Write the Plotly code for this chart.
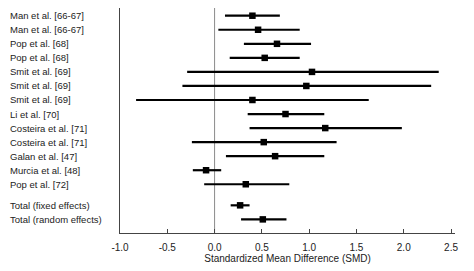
import plotly.graph_objects as go

studies = ["Man et al. [66-67]", "Man et al. [66-67]", "Pop et al. [68]", "Pop et al. [68]",
           "Smit et al. [69]", "Smit et al. [69]", "Smit et al. [69]", "Li et al. [70]",
           "Costeira et al. [71]", "Costeira et al. [71]", "Galan et al. [47]",
           "Murcia et al. [48]", "Pop et al. [72]",
           "Total (fixed effects)", "Total (random effects)"]
row_pos = [0, 1, 2, 3, 4, 5, 6, 7, 8, 9, 10, 11, 12, 13.5, 14.5]
smd = [0.40, 0.46, 0.66, 0.53, 1.03, 0.97, 0.40, 0.75, 1.17, 0.52, 0.64, -0.09, 0.33, 0.27, 0.51]
ci_low = [0.11, 0.04, 0.31, 0.16, -0.29, -0.34, -0.83, 0.35, 0.37, -0.24, 0.12, -0.23, -0.11, 0.17, 0.28]
ci_high = [0.69, 0.90, 1.02, 0.90, 2.37, 2.29, 1.63, 1.16, 1.98, 1.29, 1.16, 0.07, 0.79, 0.37, 0.76]
x_ticks = [-1.0, -0.5, 0.0, 0.5, 1.0, 1.5, 2.0, 2.5]

fig = go.Figure()
ys = [-p for p in row_pos]

# CI lines
lx, ly = [], []
for lo, hi, y in zip(ci_low, ci_high, ys):
    lx += [lo, hi, None]
    ly += [y, y, None]
fig.add_trace(go.Scatter(x=lx, y=ly, mode="lines", line=dict(color="black", width=2.2),
                         hoverinfo="skip", showlegend=False))
fig.add_trace(go.Scatter(x=smd, y=ys, mode="markers",
                         marker=dict(symbol="square", size=6.5, color="black"),
                         showlegend=False))

# zero reference line
fig.add_shape(type="line", x0=0, x1=0, y0=0, y1=1, xref="x", yref="paper",
              line=dict(color="#8a8a8a", width=1), layer="below")

for name, y in zip(studies, ys):
    fig.add_annotation(text=name, x=-0.335, xref="paper", y=y, yref="y",
                       xanchor="left", yanchor="middle", showarrow=False,
                       font=dict(family="Liberation Sans, Arial", size=9.5, color="#222"))

fig.update_layout(
    width=474, height=271,
    margin=dict(l=120, r=19, t=8, b=38),
    paper_bgcolor="white", plot_bgcolor="white",
    font=dict(family="Liberation Sans, Arial", size=10, color="#222"),
)
fig.update_xaxes(range=[-1.0, 2.542], tickvals=x_ticks,
                 ticktext=[f"{v:.1f}" for v in x_ticks],
                 ticks="inside", ticklen=4, tickcolor="#444", tickwidth=1,
                 ticklabelstandoff=5, tickfont=dict(size=10),
                 showline=True, linecolor="#444", linewidth=1, showgrid=False, zeroline=False,
                 title=dict(text="Standardized Mean Difference (SMD)", standoff=1,
                            font=dict(size=10)))
fig.update_yaxes(range=[-15.47, 0.55], showticklabels=False, ticks="",
                 showline=True, linecolor="#444", linewidth=1, showgrid=False, zeroline=False)

fig.write_html("out.html")
